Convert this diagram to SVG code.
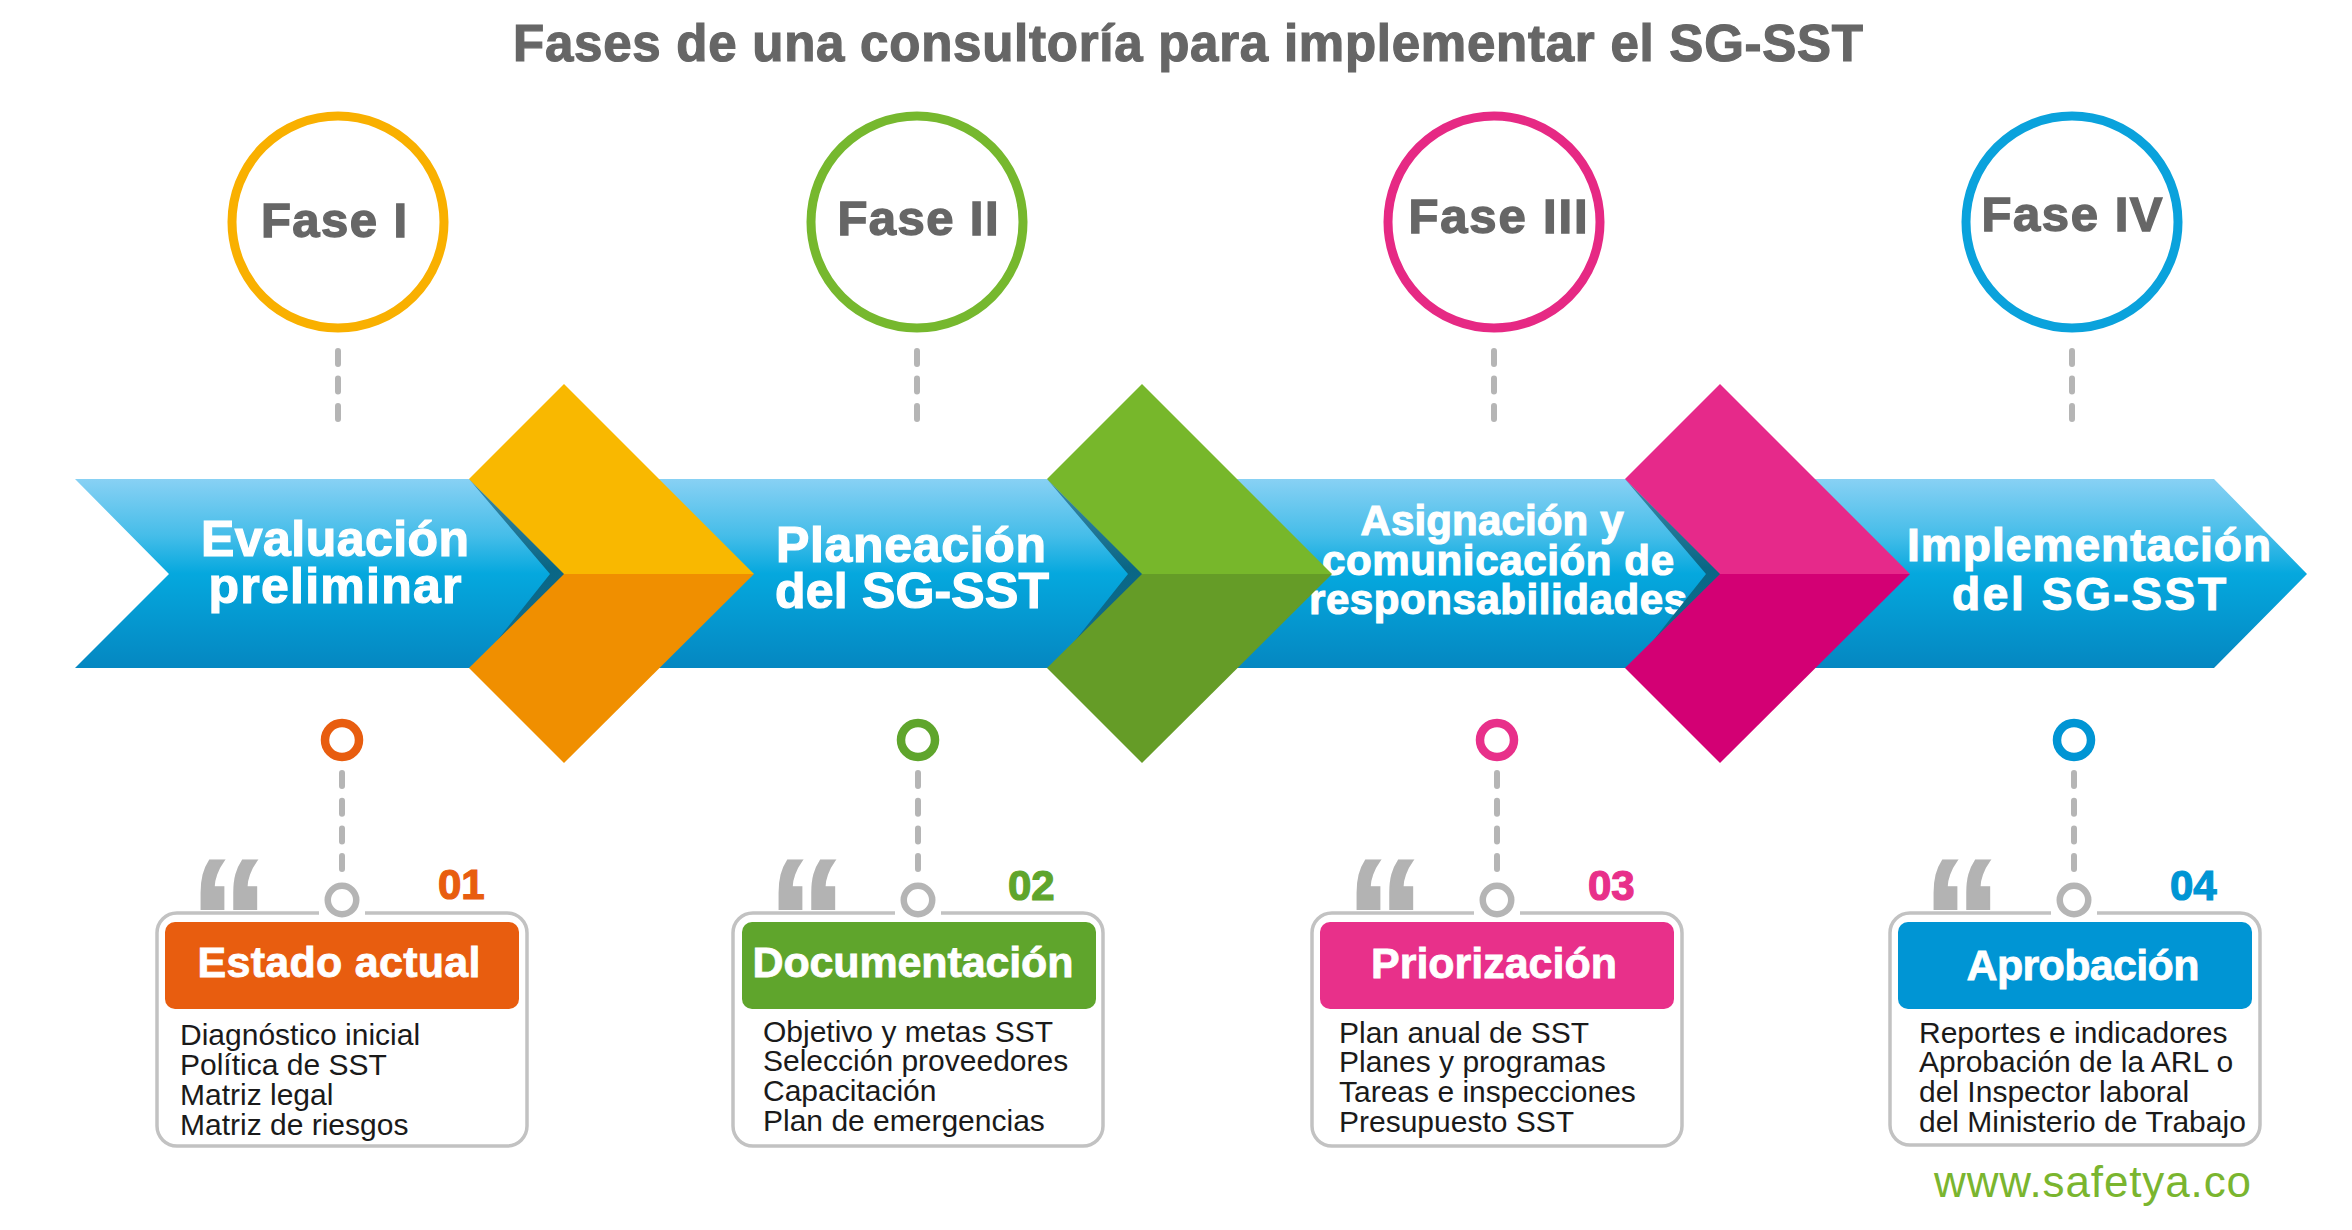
<svg xmlns="http://www.w3.org/2000/svg" width="2352" height="1230" viewBox="0 0 2352 1230">
<defs>
  <linearGradient id="bandGrad" x1="0" y1="0" x2="0" y2="1">
    <stop offset="0" stop-color="#88d1f4"/>
    <stop offset="0.3" stop-color="#45bde9"/>
    <stop offset="0.5" stop-color="#05a8de"/>
    <stop offset="1" stop-color="#0587c1"/>
  </linearGradient>
  <linearGradient id="shadowGrad" x1="0" y1="0" x2="0" y2="1">
    <stop offset="0" stop-color="#3f8ba8"/>
    <stop offset="0.5" stop-color="#0a6685"/>
    <stop offset="1" stop-color="#0d6f91"/>
  </linearGradient>
  <style>
    .title{font-family:"Liberation Sans",Arial,sans-serif;font-weight:bold;font-size:51px;fill:#666666;stroke:#666666;stroke-width:1.2;text-anchor:middle}
    .fase-ring{fill:#ffffff;stroke-width:9}
    .fase-label{font-family:"Liberation Sans",Arial,sans-serif;font-weight:bold;font-size:49px;fill:#666666;stroke:#666666;stroke-width:1.4;text-anchor:middle}
    .band-label{font-family:"Liberation Sans",Arial,sans-serif;font-weight:bold;fill:#ffffff;stroke:#ffffff;stroke-width:1.2;text-anchor:middle}
    .dash{fill:none;stroke:#b5b5b5;stroke-width:6;stroke-linecap:round}
    .dash-top{stroke-dasharray:13 14.5}
    .dash-bot{stroke-dasharray:13 14.7}
    .dot{fill:#ffffff;stroke-width:8.5}
    .gray-ring{fill:#ffffff;stroke:#b5b5b5;stroke-width:6.5}
    .card{fill:none;stroke:#c2c2c2;stroke-width:3.5}
    .hdr-text{font-family:"Liberation Sans",Arial,sans-serif;font-weight:bold;font-size:43px;fill:#ffffff;stroke:#ffffff;stroke-width:0.8;text-anchor:middle}
    .body{font-family:"Liberation Sans",Arial,sans-serif;font-size:30px;fill:#1a1a1a}
    .num{font-family:"Liberation Sans",Arial,sans-serif;font-weight:bold;font-size:42px;stroke-width:1.2}
    .quote{font-family:"Liberation Sans",Arial,sans-serif;font-weight:bold;font-size:170px;fill:#b3b3b3;stroke:#b3b3b3;stroke-width:2}
    .url{font-family:"Liberation Sans",Arial,sans-serif;font-size:44px;fill:#7ab52f}
  </style>
</defs>
<rect x="0" y="0" width="2352" height="1230" fill="#ffffff"/>

<text id="title" class="title" x="1188" y="61" textLength="1350">Fases de una consultoría para implementar el SG-SST</text>

<!-- Band -->
<g id="band">
  <polygon points="75,479 2214,479 2307,574 2214,668 75,668 169,574" fill="url(#bandGrad)"/>
  <text class="band-label" font-size="50" x="335" y="556" textLength="268">Evaluación</text>
  <text class="band-label" font-size="50" x="335" y="603" textLength="253">preliminar</text>
  <text class="band-label" font-size="50" x="911" y="562" textLength="270">Planeación</text>
  <text class="band-label" font-size="50" x="912" y="608" textLength="274">del SG-SST</text>
  <text class="band-label" font-size="42" x="1492" y="535" textLength="263">Asignación y</text>
  <text class="band-label" font-size="42" x="1498" y="575" textLength="352">comunicación de</text>
  <text class="band-label" font-size="42" x="1498" y="614" textLength="378">responsabilidades</text>
  <text class="band-label" font-size="46" x="2089" y="561" textLength="364">Implementación</text>
  <text class="band-label" font-size="46" x="2089" y="610" textLength="274">del SG-SST</text>
</g>

<!-- Chevrons -->
<g id="chevron-1">
  <polygon points="469,479 565,574 484,657 550,574" fill="url(#shadowGrad)"/>
  <polygon points="469,479 564,384 754,574 564,574" fill="#f9b800"/>
  <polygon points="469,668 564,763 754,574 564,574" fill="#f08f00"/>
</g>
<g id="chevron-2">
  <polygon points="1047,479 1143,574 1062,657 1128,574" fill="url(#shadowGrad)"/>
  <polygon points="1047,479 1142,384 1332,574 1142,574" fill="#77b72b"/>
  <polygon points="1047,668 1142,763 1332,574 1142,574" fill="#659c27"/>
</g>
<g id="chevron-3">
  <polygon points="1625,479 1721,574 1640,657 1706,574" fill="url(#shadowGrad)"/>
  <polygon points="1625,479 1720,384 1910,574 1720,574" fill="#e6298a"/>
  <polygon points="1625,668 1720,763 1910,574 1720,574" fill="#d30074"/>
</g>

<!-- Connectors -->
<g id="connectors">
  <line class="dash dash-top" x1="338" y1="351" x2="338" y2="420"/>
  <line class="dash dash-top" x1="917" y1="351" x2="917" y2="420"/>
  <line class="dash dash-top" x1="1494" y1="351" x2="1494" y2="420"/>
  <line class="dash dash-top" x1="2072" y1="351" x2="2072" y2="420"/>
  <line class="dash dash-bot" x1="342" y1="773" x2="342" y2="869"/>
  <line class="dash dash-bot" x1="918" y1="773" x2="918" y2="869"/>
  <line class="dash dash-bot" x1="1497" y1="773" x2="1497" y2="869"/>
  <line class="dash dash-bot" x1="2074" y1="773" x2="2074" y2="869"/>
</g>

<!-- Phase circles -->
<g id="fase-1">
  <circle class="fase-ring" cx="338" cy="222" r="106" stroke="#f9b000"/>
  <text class="fase-label" x="334" y="237" textLength="146">Fase I</text>
</g>
<g id="fase-2">
  <circle class="fase-ring" cx="917" cy="222" r="106" stroke="#76b82e"/>
  <text class="fase-label" x="918" y="235" textLength="161">Fase II</text>
</g>
<g id="fase-3">
  <circle class="fase-ring" cx="1494" cy="222" r="106" stroke="#e62984"/>
  <text class="fase-label" x="1498" y="233" textLength="179">Fase III</text>
</g>
<g id="fase-4">
  <circle class="fase-ring" cx="2072" cy="222" r="106" stroke="#0aa2dc"/>
  <text class="fase-label" x="2072" y="231" textLength="181">Fase IV</text>
</g>

<!-- Cards -->
<g id="card-1">
  <circle class="dot" cx="342" cy="740" r="17" stroke="#e85d0f"/>
  <path class="card" d="M365,913 H507 A20,20 0 0 1 527,933 V1126 A20,20 0 0 1 507,1146 H177 A20,20 0 0 1 157,1126 V933 A20,20 0 0 1 177,913 H319"/>
  <circle class="gray-ring" cx="342" cy="900" r="14.25"/>
  <text class="quote" transform="translate(190,978) scale(0.92,1)">“</text>
  <text class="num" x="438" y="899" fill="#e85d0f" stroke="#e85d0f">01</text>
  <rect x="165" y="922" width="354" height="87" rx="10" fill="#e85d0f"/>
  <text class="hdr-text" x="339" y="977" textLength="283">Estado actual</text>
  <text class="body" x="180" y="1045">Diagnóstico inicial</text>
  <text class="body" x="180" y="1075">Política de SST</text>
  <text class="body" x="180" y="1105">Matriz legal</text>
  <text class="body" x="180" y="1135">Matriz de riesgos</text>
</g>
<g id="card-2">
  <circle class="dot" cx="918" cy="740" r="17" stroke="#5fa52c"/>
  <path class="card" d="M941,913 H1083 A20,20 0 0 1 1103,933 V1126 A20,20 0 0 1 1083,1146 H753 A20,20 0 0 1 733,1126 V933 A20,20 0 0 1 753,913 H895"/>
  <circle class="gray-ring" cx="918" cy="900" r="14.25"/>
  <text class="quote" transform="translate(768,978) scale(0.92,1)">“</text>
  <text class="num" x="1008" y="900" fill="#5fa52c" stroke="#5fa52c">02</text>
  <rect x="742" y="922" width="354" height="87" rx="10" fill="#5fa52c"/>
  <text class="hdr-text" x="913" y="977" textLength="321">Documentación</text>
  <text class="body" x="763" y="1042">Objetivo y metas SST</text>
  <text class="body" x="763" y="1071">Selección proveedores</text>
  <text class="body" x="763" y="1101">Capacitación</text>
  <text class="body" x="763" y="1131">Plan de emergencias</text>
</g>
<g id="card-3">
  <circle class="dot" cx="1497" cy="740" r="17" stroke="#e8308a"/>
  <path class="card" d="M1520,913 H1662 A20,20 0 0 1 1682,933 V1126 A20,20 0 0 1 1662,1146 H1332 A20,20 0 0 1 1312,1126 V933 A20,20 0 0 1 1332,913 H1474"/>
  <circle class="gray-ring" cx="1497" cy="900" r="14.25"/>
  <text class="quote" transform="translate(1346,978) scale(0.92,1)">“</text>
  <text class="num" x="1588" y="900" fill="#e8308a" stroke="#e8308a">03</text>
  <rect x="1320" y="922" width="354" height="87" rx="10" fill="#e8308a"/>
  <text class="hdr-text" x="1494" y="978" textLength="246">Priorización</text>
  <text class="body" x="1339" y="1043">Plan anual de SST</text>
  <text class="body" x="1339" y="1072">Planes y programas</text>
  <text class="body" x="1339" y="1102">Tareas e inspecciones</text>
  <text class="body" x="1339" y="1132">Presupuesto SST</text>
</g>
<g id="card-4">
  <circle class="dot" cx="2074" cy="740" r="17" stroke="#0095d4"/>
  <path class="card" d="M2097,913 H2240 A20,20 0 0 1 2260,933 V1125 A20,20 0 0 1 2240,1145 H1910 A20,20 0 0 1 1890,1125 V933 A20,20 0 0 1 1910,913 H2051"/>
  <circle class="gray-ring" cx="2074" cy="900" r="14.25"/>
  <text class="quote" transform="translate(1923,978) scale(0.92,1)">“</text>
  <text class="num" x="2170" y="900" fill="#0095d4" stroke="#0095d4">04</text>
  <rect x="1898" y="922" width="354" height="87" rx="10" fill="#0095d4"/>
  <text class="hdr-text" x="2083" y="980" textLength="233">Aprobación</text>
  <text class="body" x="1919" y="1043">Reportes e indicadores</text>
  <text class="body" x="1919" y="1072">Aprobación de la ARL o</text>
  <text class="body" x="1919" y="1102">del Inspector laboral</text>
  <text class="body" x="1919" y="1132">del Ministerio de Trabajo</text>
</g>

<text id="url" class="url" x="1934" y="1197" textLength="317">www.safetya.co</text>
</svg>
